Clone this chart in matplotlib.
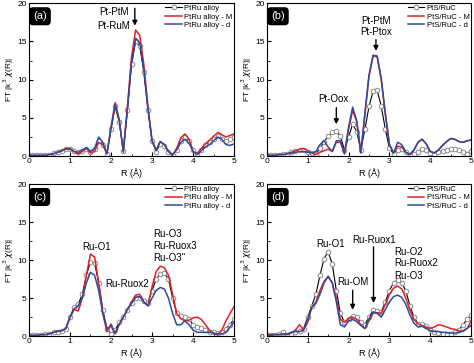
import numpy as np
import matplotlib
matplotlib.use('Agg')
import matplotlib.pyplot as plt
from matplotlib.ticker import MultipleLocator

plt.rcParams['font.family'] = ['Liberation Sans', 'DejaVu Sans']

# distancia R (A), paso 0.1
R = np.round(np.arange(51) * 0.1, 1)

# (a) PtRu alloy, borde Pt
a_exp = [0.1, 0.1, 0.1, 0.1, 0.2, 0.2, 0.4, 0.6, 0.7, 0.9,
         0.9, 0.7, 0.5, 0.7, 0.9, 0.6, 0.9, 2.0, 1.5, 0.3,
         3.5, 6.5, 4.5, 0.7, 6.0, 12.0, 15.0, 14.4, 11.0, 6.0,
         2.0, 0.6, 1.6, 1.3, 0.5, 0.2, 0.8, 2.0, 2.5, 2.0,
         0.8, 0.3, 0.8, 1.4, 1.8, 2.2, 2.6, 2.3, 2.0, 2.3, 2.5]
a_M = [0.1, 0.1, 0.1, 0.1, 0.1, 0.2, 0.3, 0.5, 0.7, 1.0,
       1.0, 0.6, 0.3, 0.6, 1.0, 0.4, 0.6, 1.8, 1.5, 0.3,
       3.8, 7.0, 4.8, 0.5, 6.5, 13.0, 16.5, 15.8, 12.0, 6.5,
       2.0, 0.8, 1.9, 1.5, 0.6, 0.1, 1.0, 2.4, 2.9, 2.2,
       0.6, 0.3, 1.0, 1.6, 2.1, 2.6, 3.1, 2.8, 2.5, 2.7, 2.9]
a_d = [0.1, 0.1, 0.1, 0.1, 0.1, 0.2, 0.3, 0.5, 0.7, 0.9,
       0.9, 0.6, 0.5, 0.8, 1.1, 0.6, 1.0, 2.5, 1.8, 0.3,
       3.6, 6.7, 4.7, 0.6, 6.2, 12.3, 15.4, 14.8, 11.3, 6.2,
       2.0, 0.7, 1.9, 1.5, 0.6, 0.2, 0.8, 1.8, 2.2, 1.7,
       0.6, 0.2, 0.7, 1.2, 1.5, 2.0, 2.5, 2.2, 1.5, 1.4, 1.6]

# (b) PtS/RuC, borde Pt
b_exp = [0.1, 0.1, 0.2, 0.2, 0.3, 0.3, 0.5, 0.7, 0.8, 0.8,
         0.6, 0.4, 0.3, 1.0, 1.9, 2.6, 3.1, 3.3, 2.6, 0.8,
         2.5, 4.2, 3.2, 0.8, 3.5, 6.5, 8.5, 8.6, 6.5, 3.5,
         1.0, 0.3, 0.8, 0.9, 0.5, 0.2, 0.3, 0.6, 0.9, 0.8,
         0.4, 0.3, 0.5, 0.7, 0.8, 0.9, 0.9, 0.8, 0.6, 0.3, 0.7]
b_M = [0.1, 0.1, 0.1, 0.2, 0.2, 0.3, 0.5, 0.7, 0.9, 1.0,
       0.7, 0.4, 0.2, 0.5, 0.7, 0.9, 0.6, 1.8, 1.8, 0.3,
       3.5, 6.0, 4.5, 0.5, 5.5, 10.5, 13.1, 13.0, 10.0, 5.5,
       1.5, 0.4, 1.3, 1.2, 0.5, 0.2, 0.8, 1.8, 2.2, 1.6,
       0.6, 0.4, 0.8, 1.4, 1.9, 2.3, 2.2, 1.9, 1.8, 2.0, 2.1]
b_d = [0.1, 0.1, 0.1, 0.2, 0.2, 0.3, 0.4, 0.5, 0.6, 0.6,
       0.5, 0.4, 0.6, 1.5, 2.0, 1.2, 0.6, 2.0, 2.0, 0.3,
       3.8, 6.4, 4.6, 0.4, 5.6, 10.6, 13.2, 13.1, 10.1, 5.5,
       1.5, 0.4, 1.8, 1.5, 0.5, 0.2, 0.8, 1.8, 2.2, 1.6,
       0.6, 0.4, 0.8, 1.4, 1.9, 2.3, 2.2, 1.9, 1.8, 2.0, 2.1]

# (c) PtRu alloy, borde Ru
c_exp = [0.1, 0.1, 0.2, 0.2, 0.3, 0.3, 0.5, 0.6, 0.7, 1.0,
         2.5, 3.8, 4.2, 5.5, 8.0, 9.8, 9.6, 7.0, 3.5, 1.0,
         0.3, 0.8, 1.8, 2.5, 3.5, 4.3, 5.0, 5.0, 4.6, 4.4,
         6.0, 7.5, 8.2, 8.3, 7.5, 5.0, 3.0, 2.6, 2.5, 2.2,
         1.5, 1.2, 1.1, 0.8, 0.6, 0.5, 0.4, 0.5, 1.0, 1.5, 2.3]
c_M = [0.1, 0.1, 0.1, 0.2, 0.2, 0.3, 0.5, 0.7, 0.7, 1.0,
       2.4, 3.5, 3.3, 5.0, 8.0, 10.8, 10.4, 7.0, 3.0, 0.6,
       1.6, 0.3, 1.5, 2.5, 3.5, 4.5, 5.4, 5.5, 4.5, 4.0,
       6.5, 8.5, 9.2, 9.0, 8.0, 5.5, 3.0, 2.3, 2.0, 2.1,
       2.4, 2.5, 2.2, 1.5, 0.8, 0.3, 0.2, 0.8, 2.0, 3.0, 3.9]
c_d = [0.1, 0.1, 0.1, 0.2, 0.2, 0.3, 0.5, 0.6, 0.7, 1.0,
       2.5, 3.6, 4.0, 5.0, 7.0, 8.4, 8.0, 6.0, 3.0, 1.0,
       1.3, 0.4, 1.6, 2.5, 3.5, 4.3, 5.1, 5.2, 4.5, 4.0,
       5.0, 6.0, 6.4, 6.2, 5.0, 3.0, 1.5, 1.5, 2.0, 1.5,
       0.8, 0.5, 0.5, 0.5, 0.5, 0.4, 0.3, 0.3, 0.5, 1.2, 1.9]

# (d) PtS/RuC, borde Ru
d_exp = [0.2, 0.2, 0.2, 0.3, 0.5, 0.2, 0.3, 0.5, 0.7, 1.0,
         2.5, 4.0, 5.5, 8.0, 10.2, 11.1, 9.5, 6.0, 3.0, 1.8,
         2.3, 2.7, 2.5, 1.8, 1.5, 2.5, 3.4, 3.3, 3.2, 4.5,
         6.0, 7.0, 7.4, 7.0, 6.0, 4.0, 2.5, 1.6, 1.6, 1.3,
         0.9, 0.6, 0.4, 0.3, 0.2, 0.3, 0.5, 0.8, 1.5, 2.2, 2.8]
d_M = [0.2, 0.2, 0.2, 0.2, 0.2, 0.2, 0.4, 0.8, 1.5, 0.8,
       1.8, 3.8, 4.5, 6.0, 7.2, 7.8, 7.0, 5.0, 2.2, 1.8,
       2.3, 2.5, 2.2, 1.5, 1.0, 2.0, 3.0, 3.1, 3.0, 4.2,
       5.5, 6.3, 6.6, 6.2, 5.0, 3.5, 2.2, 1.6, 1.4, 1.2,
       1.0, 1.2, 1.5, 1.4, 1.2, 1.0, 0.9, 0.7, 0.6, 1.0, 2.0]
d_d = [0.1, 0.1, 0.2, 0.2, 0.3, 0.3, 0.5, 0.6, 0.6, 0.8,
       2.3, 3.8, 4.3, 5.5, 7.0, 7.9, 7.0, 4.5, 1.5, 1.2,
       2.0, 2.2, 1.9, 1.4, 1.0, 2.3, 3.2, 3.0, 2.5, 3.5,
       4.5, 5.2, 5.4, 5.1, 4.2, 2.8, 1.7, 1.2, 1.3, 1.0,
       0.7, 0.6, 0.6, 0.5, 0.5, 0.4, 0.4, 0.5, 0.7, 1.0, 1.4]

muestras = ['PtRu alloy', 'PtS/RuC', 'PtRu alloy', 'PtS/RuC']
letras = ['(a)', '(b)', '(c)', '(d)']
series = [(a_exp, a_M, a_d), (b_exp, b_M, b_d),
          (c_exp, c_M, c_d), (d_exp, d_M, d_d)]

# etiquetas: (texto, x, y, ha) y flechas: (x, y_ini, y_fin)
textos = [
    [('Pt-PtM', 2.07, 18.8, 'center'), ('Pt-RuM', 2.07, 17.0, 'center')],
    [('Pt-PtM', 2.67, 17.7, 'center'), ('Pt-Ptox', 2.67, 16.3, 'center'),
     ('Pt-Oox', 1.62, 7.5, 'center')],
    [('Ru-O1', 1.65, 11.7, 'center'), ('Ru-Ruox2', 2.39, 6.9, 'center'),
     ('Ru-O3', 3.03, 13.4, 'left'), ('Ru-Ruox3', 3.03, 11.9, 'left'),
     ("Ru-O3''", 3.03, 10.3, 'left')],
    [('Ru-O1', 1.57, 12.1, 'center'), ('Ru-Ruox1', 2.63, 12.7, 'center'),
     ('Ru-OM', 2.1, 7.1, 'center'), ('Ru-O2', 3.12, 11.0, 'left'),
     ('Ru-Ruox2', 3.12, 9.6, 'left'), ('Ru-O3', 3.12, 7.9, 'left')],
]
flechas = [
    [(2.58, 19.7, 16.7)],
    [(2.67, 15.6, 13.4), (1.70, 6.7, 3.8)],
    [],
    [(2.61, 12.1, 4.0), (2.10, 6.4, 3.1)],
]

rojo = '#e41f26'
azul = '#2b4c9f'

fig = plt.figure(figsize=(4.74, 3.63), dpi=100)
pos = [[0.061, 0.570, 0.433, 0.421], [0.563, 0.570, 0.431, 0.421],
       [0.061, 0.074, 0.433, 0.419], [0.563, 0.074, 0.431, 0.419]]

for i in range(4):
    ax = fig.add_axes(pos[i])
    exp, M, d = series[i]
    ax.plot(R, exp, '-', color='k', lw=0.8, marker='o', ms=3.3,
            mfc='white', mec='#8a8a8a', mew=0.7, label=muestras[i])
    ax.plot(R, M, '-', color=rojo, lw=1.1, label=muestras[i] + ' - M')
    ax.plot(R, d, '-', color=azul, lw=1.1, label=muestras[i] + ' - d')
    ax.set_xlim(0, 5)
    ax.set_ylim(0, 20)
    ax.xaxis.set_major_locator(MultipleLocator(1))
    ax.xaxis.set_minor_locator(MultipleLocator(0.5))
    ax.yaxis.set_major_locator(MultipleLocator(5))
    ax.yaxis.set_minor_locator(MultipleLocator(2.5))
    ax.tick_params(which='both', direction='in', labelsize=6, pad=1.5)
    ax.tick_params(which='major', length=3)
    ax.tick_params(which='minor', length=1.8)
    ax.set_xlabel(u'R (Å)', fontsize=6.5, labelpad=2)
    ax.set_ylabel(r'FT |k$^3$ $\chi$(R)|', fontsize=6, labelpad=1)
    for s in ax.spines.values():
        s.set_linewidth(0.8)
    ax.text(0.1, 18.3, letras[i], color='white', fontsize=8, va='center',
            bbox=dict(boxstyle='round,pad=0.3', fc='black', ec='black'))
    ax.legend(loc='upper right', fontsize=5.5, frameon=False,
              handlelength=2.2, handletextpad=0.3, labelspacing=0.15,
              borderaxespad=0.1, borderpad=0.1)
    for t, x, y, ha in textos[i]:
        ax.text(x, y, t, fontsize=7, ha=ha, va='center')
    for x, y0, y1 in flechas[i]:
        ax.annotate('', xy=(x, y1), xytext=(x, y0),
                    arrowprops=dict(arrowstyle='-|>', color='k', lw=1.0,
                                    mutation_scale=7))

plt.savefig('out.png', dpi=100)
